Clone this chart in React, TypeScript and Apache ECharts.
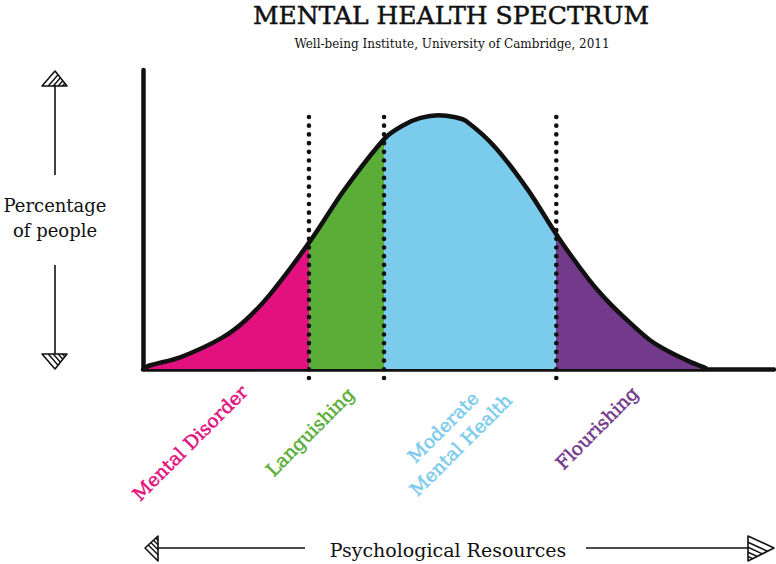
import React, { useEffect, useRef } from "react";
import * as echarts from "echarts";

// ---- data (x: psychological resources 0-100, y: percentage of people 0-100) ----
const curveX = [0.4, 0.8, 6.0, 12.5, 16.3, 20.3, 26.6, 31.9, 38.4, 41.5, 44.0, 46.8, 49.5, 51.3, 55.8, 61.0, 65.8, 70.7, 73.9, 77.2, 80.3, 83.7, 86.8, 88.7, 89.4];
const curveY = [0.2, 1.0, 4.0, 10.4, 16.4, 25.4, 43.1, 59.9, 77.3, 81.8, 84.0, 84.9, 84.2, 82.8, 74.2, 59.9, 44.1, 29.8, 22.1, 15.4, 9.7, 5.4, 2.3, 0.7, 0];
const boundaries = [26.3, 38.2, 65.5];
const dividerTop = 84.3;
const dividerBottom = -4.7;
const zoneNames = ["Mental Disorder", "Languishing", "Moderate\nMental Health", "Flourishing"];
const zoneColors = ["#e2117f", "#5aae37", "#7bcbec", "#733a8c"];
const titleText = "MENTAL HEALTH SPECTRUM";
const subtitleText = "Well-being Institute, University of Cambridge, 2011";
const yLabel = "Percentage\nof people";
const xLabel = "Psychological Resources";

const FONT = '"DejaVu Serif", serif';
const INK = "#111111";

function hatchedHead(apex: number[], b1: number[], b2: number[]) {
  const children: any[] = [
    {
      type: "polygon",
      shape: { points: [apex, b1, b2] },
      style: { fill: "none", stroke: INK, lineWidth: 1.6, lineJoin: "round" },
    },
  ];
  [0.25, 0.45, 0.65, 0.82].forEach((t) => {
    const p = [b1[0] + t * (b2[0] - b1[0]), b1[1] + t * (b2[1] - b1[1])];
    const q = [apex[0] + t * (b2[0] - apex[0]), apex[1] + t * (b2[1] - apex[1])];
    children.push({
      type: "line",
      shape: { x1: p[0], y1: p[1], x2: q[0], y2: q[1] },
      style: { stroke: INK, lineWidth: 1.4 },
    });
  });
  return { type: "group", children };
}

export default function App() {
  const ref = useRef<HTMLDivElement>(null);
  useEffect(() => {
    if (!ref.current) return;
    const chart = echarts.init(ref.current, null, { renderer: "svg" });
    const curve = curveX.map((x, i) => [x, curveY[i]]);
    const labelCenters = [
      [190, 443],
      [310, 432],
      [452, 436],
      [597, 428],
    ];
    const option: any = {
      animation: false,
      backgroundColor: "#ffffff",
      grid: { left: 143, right: 2, top: 70, bottom: 195 },
      xAxis: {
        type: "value",
        min: 0,
        max: 100,
        axisLine: { show: true, lineStyle: { color: INK, width: 4.5 } },
        axisTick: { show: false },
        axisLabel: { show: false },
        splitLine: { show: false },
      },
      yAxis: {
        type: "value",
        min: 0,
        max: 100,
        axisLine: { show: true, lineStyle: { color: INK, width: 4.5 } },
        axisTick: { show: false },
        axisLabel: { show: false },
        splitLine: { show: false },
      },
      visualMap: {
        type: "piecewise",
        show: false,
        dimension: 0,
        seriesIndex: 0,
        pieces: [
          { lt: boundaries[0], color: zoneColors[0] },
          { gte: boundaries[0], lt: boundaries[1], color: zoneColors[1] },
          { gte: boundaries[1], lt: boundaries[2], color: zoneColors[2] },
          { gte: boundaries[2], color: zoneColors[3] },
        ],
      },
      series: [
        {
          type: "line",
          data: curve,
          smooth: 0.3,
          symbol: "none",
          silent: true,
          lineStyle: { color: INK, width: 4.5 },
          areaStyle: { opacity: 1 },
          z: 2,
        },
        ...boundaries.map((b) => ({
          type: "line",
          data: [
            [b, dividerTop],
            [b, dividerBottom],
          ],
          symbol: "none",
          silent: true,
          clip: false,
          lineStyle: { color: INK, width: 4.6, type: [0.1, 8.6], cap: "round" },
          z: 3,
        })),
      ],
      graphic: [
        {
          type: "text",
          x: 451,
          y: 15,
          style: {
            text: titleText,
            font: `25px ${FONT}`,
            fill: INK,
            align: "center",
            verticalAlign: "middle",
            stroke: INK,
            lineWidth: 0.5,
          },
        },
        {
          type: "text",
          x: 452,
          y: 44,
          style: { text: subtitleText, font: `12px ${FONT}`, fill: INK, align: "center", verticalAlign: "middle" },
        },
        {
          type: "text",
          x: 55,
          y: 218,
          style: { text: yLabel, font: `18px ${FONT}`, fill: INK, align: "center", verticalAlign: "middle", lineHeight: 25 },
        },
        { type: "line", shape: { x1: 55, y1: 85, x2: 55, y2: 175 }, style: { stroke: INK, lineWidth: 1.6 } },
        { type: "line", shape: { x1: 55, y1: 265, x2: 55, y2: 354 }, style: { stroke: INK, lineWidth: 1.6 } },
        hatchedHead([55, 71], [42, 86], [67, 86]),
        hatchedHead([55, 369], [42, 354], [67, 354]),
        {
          type: "text",
          x: 448,
          y: 550,
          style: { text: xLabel, font: `19px ${FONT}`, fill: INK, align: "center", verticalAlign: "middle" },
        },
        { type: "line", shape: { x1: 157, y1: 548, x2: 305, y2: 548 }, style: { stroke: INK, lineWidth: 1.6 } },
        { type: "line", shape: { x1: 586, y1: 548, x2: 748, y2: 548 }, style: { stroke: INK, lineWidth: 1.6 } },
        hatchedHead([145, 548], [158, 561], [158, 536]),
        hatchedHead([774, 548], [748, 536], [748, 561]),
        ...zoneNames.map((name, i) => ({
          type: "text",
          x: labelCenters[i][0],
          y: labelCenters[i][1],
          rotation: Math.PI / 4,
          style: {
            text: name,
            font: `18.5px ${FONT}`,
            fill: zoneColors[i],
            align: "center",
            verticalAlign: "middle",
            lineHeight: 25,
            stroke: zoneColors[i],
            lineWidth: 0.5,
          },
        })),
      ],
    };
    chart.setOption(option);
    return () => chart.dispose();
  }, []);
  return <div ref={ref} style={{ position: "absolute", left: 0, top: 0, width: 776, height: 564 }} />;
}
